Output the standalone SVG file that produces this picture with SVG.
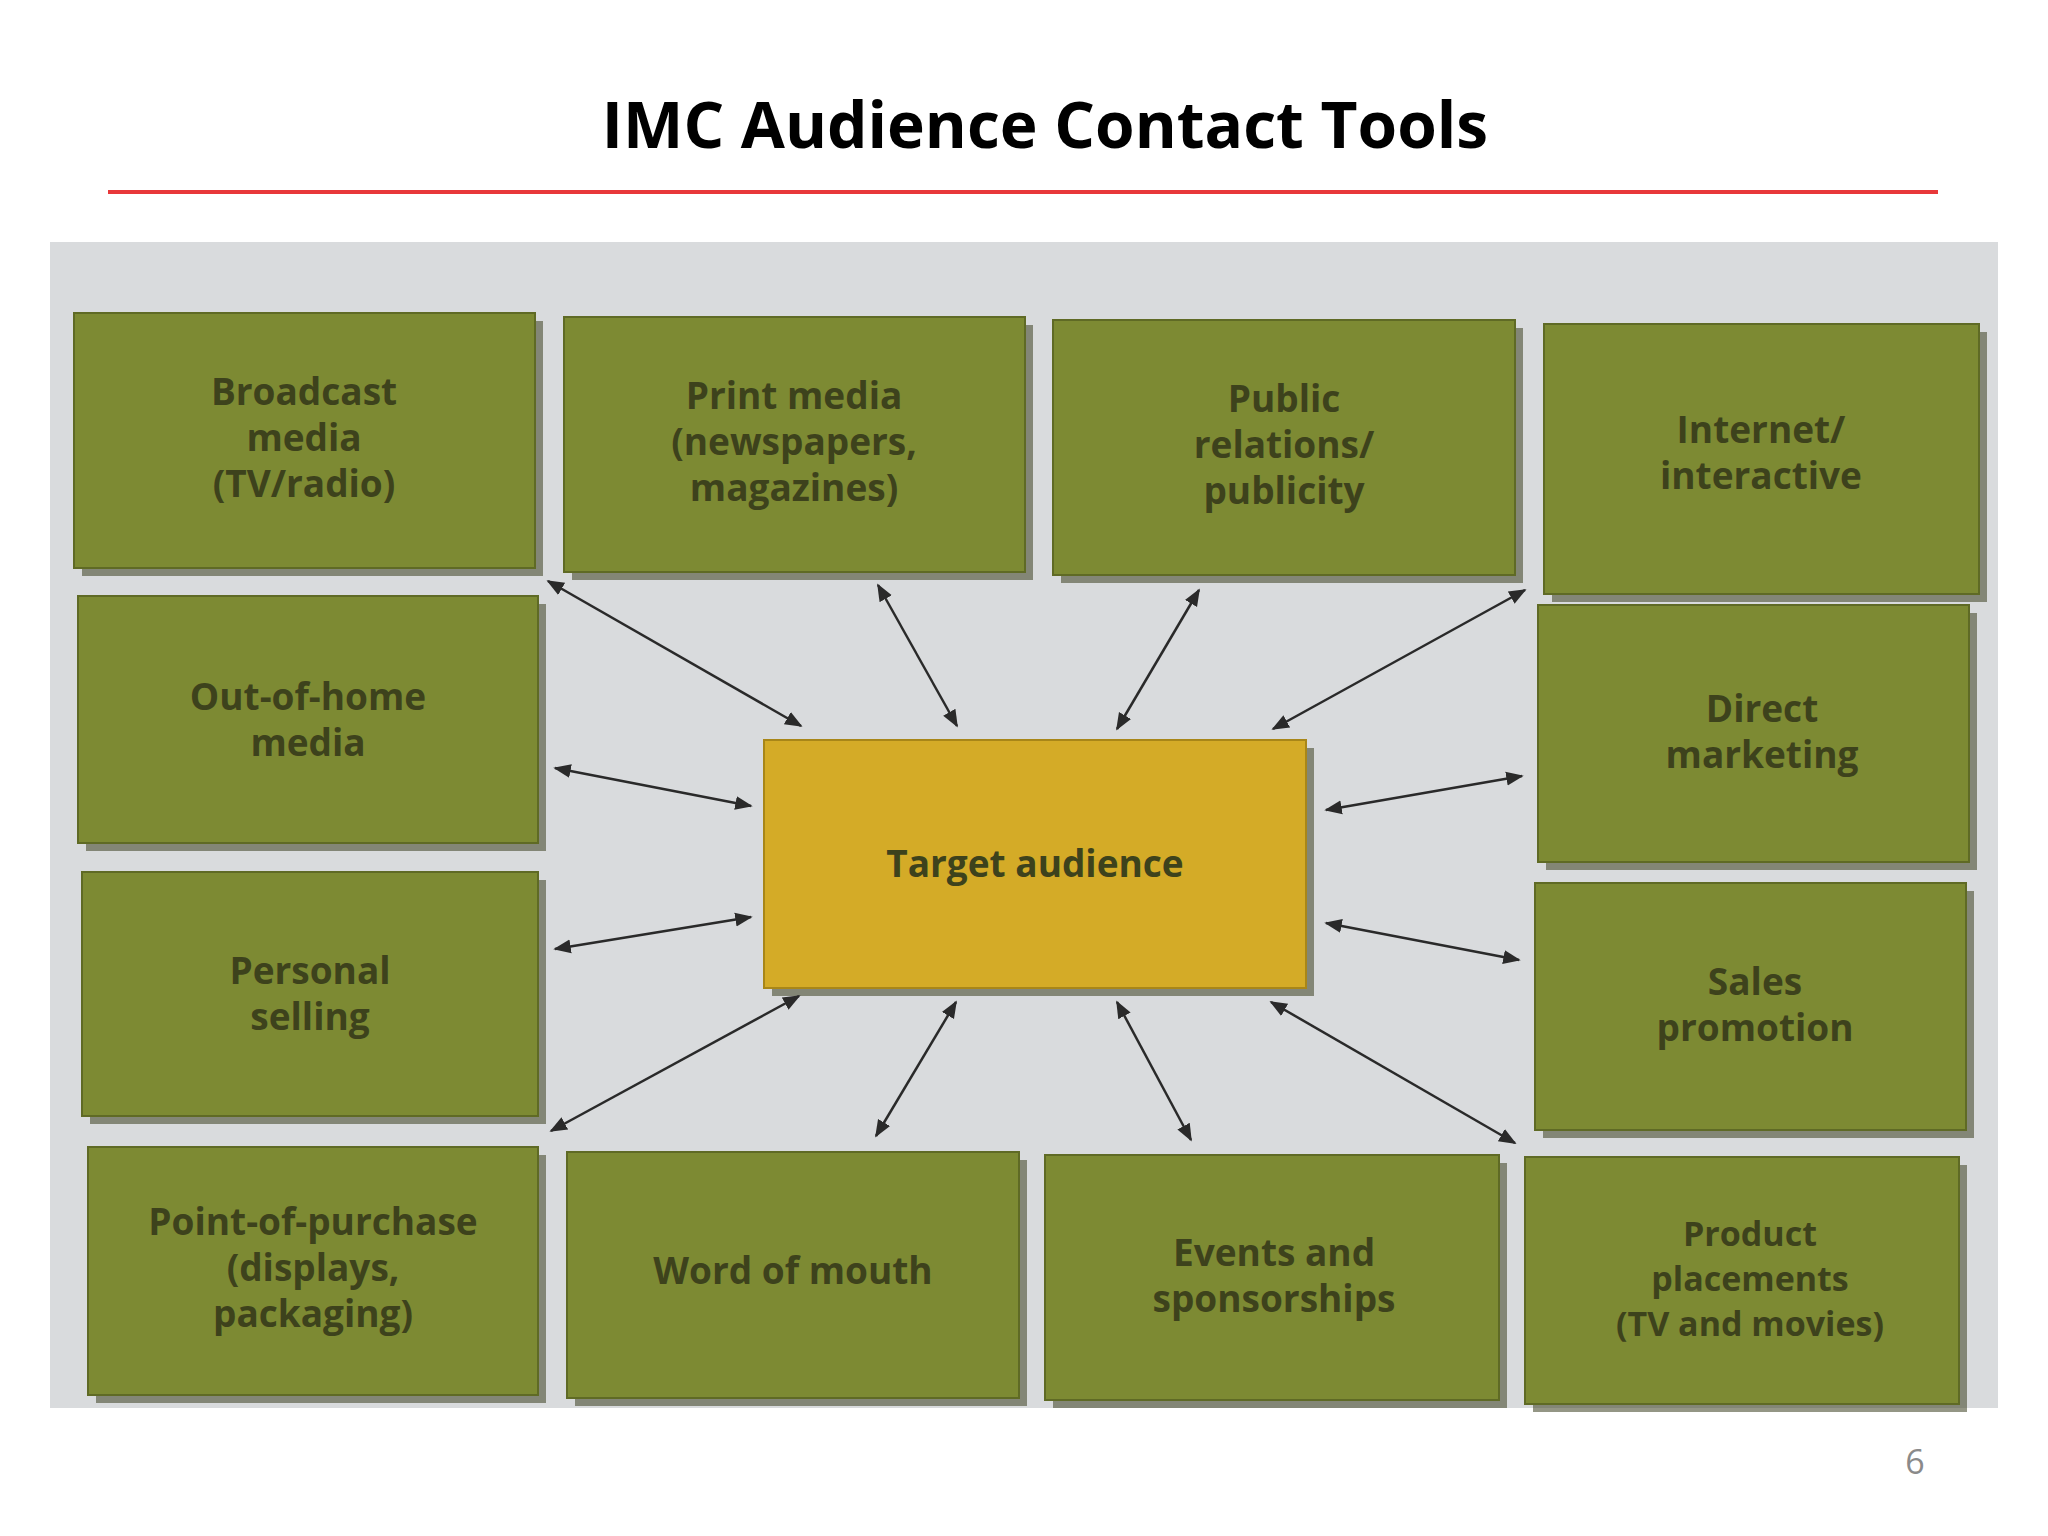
<svg xmlns="http://www.w3.org/2000/svg" width="2048" height="1536" viewBox="0 0 2048 1536">
<style>
.box{fill:#7d8a33;stroke:#5f6a25;stroke-width:2}
.sh{fill:#3c4020;opacity:0.55}
.t{font-family:"Open Sans","Liberation Sans",sans-serif;font-weight:bold;font-size:37px;fill:#3d421c;text-anchor:middle}
.s{font-size:34px}
.c{stroke:#2a2a2a;stroke-width:2.5;fill:none;marker-start:url(#a);marker-end:url(#a)}
</style>
<defs>
<marker id="a" viewBox="0 0 10 10" refX="9" refY="5" markerWidth="7" markerHeight="7" orient="auto-start-reverse"><path d="M0,1 L10,5 L0,9 z" fill="#2a2a2a"/></marker>
</defs>
<rect width="2048" height="1536" fill="#ffffff"/>
<text x="1045" y="148" font-family="'Open Sans','Liberation Sans',sans-serif" font-weight="bold" font-size="64" text-anchor="middle" fill="#000">IMC Audience Contact Tools</text>
<line x1="108" y1="192" x2="1938" y2="192" stroke="#e8383a" stroke-width="4"/>
<rect x="50" y="242" width="1948" height="1166" fill="#d9dbdd"/>
<g id="target"><rect class="sh" x="772" y="748" width="542" height="248"/><rect x="764" y="740" width="542" height="248" fill="#d4ab27" stroke="#a88618" stroke-width="2"/><text class="t" x="1035" y="877">Target audience</text></g>
<g id="broadcast"><rect class="sh" x="82" y="321" width="461" height="255"/><rect class="box" x="74" y="313" width="461" height="255"/><text class="t" x="304" y="405">Broadcast</text><text class="t" x="304" y="451">media</text><text class="t" x="304" y="497">(TV/radio)</text></g>
<g id="print"><rect class="sh" x="572" y="325" width="461" height="255"/><rect class="box" x="564" y="317" width="461" height="255"/><text class="t" x="794" y="409">Print media</text><text class="t" x="794" y="455">(newspapers,</text><text class="t" x="794" y="501">magazines)</text></g>
<g id="public"><rect class="sh" x="1061" y="328" width="462" height="255"/><rect class="box" x="1053" y="320" width="462" height="255"/><text class="t" x="1284" y="412">Public</text><text class="t" x="1284" y="458">relations/</text><text class="t" x="1284" y="504">publicity</text></g>
<g id="internet"><rect class="sh" x="1552" y="332" width="435" height="270"/><rect class="box" x="1544" y="324" width="435" height="270"/><text class="t" x="1761" y="443">Internet/</text><text class="t" x="1761" y="489">interactive</text></g>
<g id="outofhome"><rect class="sh" x="86" y="604" width="460" height="247"/><rect class="box" x="78" y="596" width="460" height="247"/><text class="t" x="308" y="710">Out-of-home</text><text class="t" x="308" y="756">media</text></g>
<g id="direct"><rect class="sh" x="1546" y="613" width="431" height="257"/><rect class="box" x="1538" y="605" width="431" height="257"/><text class="t" x="1762" y="722">Direct</text><text class="t" x="1762" y="768">marketing</text></g>
<g id="personal"><rect class="sh" x="90" y="880" width="456" height="244"/><rect class="box" x="82" y="872" width="456" height="244"/><text class="t" x="310" y="984">Personal</text><text class="t" x="310" y="1030">selling</text></g>
<g id="sales"><rect class="sh" x="1543" y="891" width="431" height="247"/><rect class="box" x="1535" y="883" width="431" height="247"/><text class="t" x="1755" y="995">Sales</text><text class="t" x="1755" y="1041">promotion</text></g>
<g id="pop"><rect class="sh" x="96" y="1155" width="450" height="248"/><rect class="box" x="88" y="1147" width="450" height="248"/><text class="t" x="313" y="1235">Point-of-purchase</text><text class="t" x="313" y="1281">(displays,</text><text class="t" x="313" y="1327">packaging)</text></g>
<g id="word"><rect class="sh" x="575" y="1160" width="452" height="246"/><rect class="box" x="567" y="1152" width="452" height="246"/><text class="t" x="793" y="1284">Word of mouth</text></g>
<g id="events"><rect class="sh" x="1053" y="1163" width="454" height="245"/><rect class="box" x="1045" y="1155" width="454" height="245"/><text class="t" x="1274" y="1266">Events and</text><text class="t" x="1274" y="1312">sponsorships</text></g>
<g id="product"><rect class="sh" x="1533" y="1165" width="434" height="247"/><rect class="box" x="1525" y="1157" width="434" height="247"/><text class="t s" x="1750" y="1246">Product</text><text class="t s" x="1750" y="1291">placements</text><text class="t s" x="1750" y="1336">(TV and movies)</text></g>
<g id="connectors">
<line class="c" x1="548" y1="581" x2="801" y2="726"/>
<line class="c" x1="878" y1="585" x2="957" y2="726"/>
<line class="c" x1="1199" y1="590" x2="1117" y2="729"/>
<line class="c" x1="1525" y1="590" x2="1273" y2="729"/>
<line class="c" x1="555" y1="768" x2="751" y2="806"/>
<line class="c" x1="1326" y1="810" x2="1522" y2="776"/>
<line class="c" x1="555" y1="949" x2="751" y2="917"/>
<line class="c" x1="1326" y1="923" x2="1519" y2="960"/>
<line class="c" x1="551" y1="1131" x2="799" y2="996"/>
<line class="c" x1="876" y1="1136" x2="956" y2="1002"/>
<line class="c" x1="1117" y1="1002" x2="1191" y2="1140"/>
<line class="c" x1="1271" y1="1002" x2="1515" y2="1143"/>
</g>
<text x="1915" y="1474" font-family="'Open Sans','Liberation Sans',sans-serif" font-size="34" fill="#8a8a8a" text-anchor="middle">6</text>
</svg>
